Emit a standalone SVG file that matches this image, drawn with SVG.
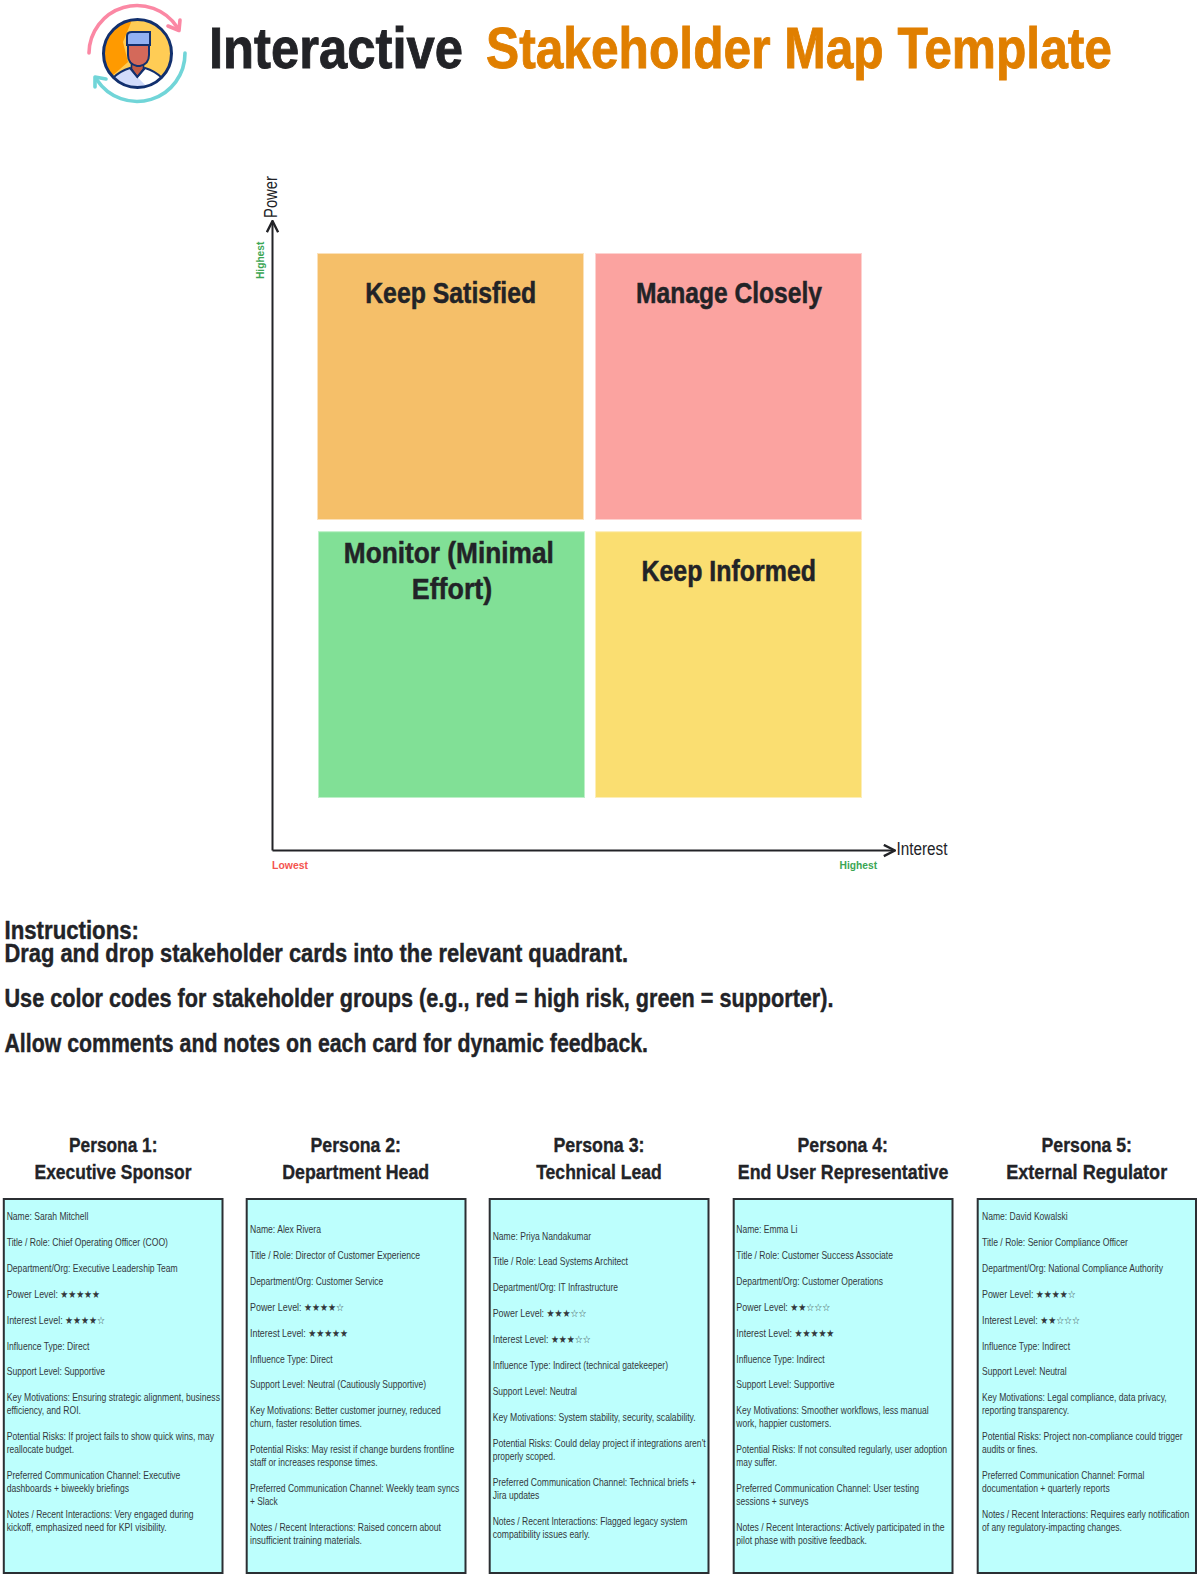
<svg xmlns="http://www.w3.org/2000/svg" width="1200" height="1577" viewBox="0 0 1200 1577">
<style>
text{font-family:"Liberation Sans Narrow","Liberation Sans","DejaVu Sans",sans-serif}
.h{font-weight:700;fill:#222327;stroke:#222327}
.title{font-size:58px;stroke-width:.9px}
.or{font-weight:700;fill:#e07f00;stroke:#e07f00}
.q{font-size:30px;stroke-width:.5px}
.ins{font-size:25px;stroke-width:.4px}
.ph{font-size:21px;stroke-width:.35px}
.t{font-size:10.5px;fill:#33383c}
.ax{font-size:18px;fill:#222327}
.lvl{font-size:11.5px;font-weight:700}
.card{fill:#bdfffd;stroke:#2b2f33;stroke-width:2}
.axis{fill:none;stroke:#222327;stroke-width:2}
</style>
<defs>
<marker id="arr" viewBox="0 0 10 10" refX="9" refY="5" markerWidth="7" markerHeight="7" orient="auto"><path d="M1 1L9 5L1 9" fill="none" stroke="#222327" stroke-width="1.700"/></marker>
<clipPath id="face"><circle cx="137.500" cy="53.500" r="34"/></clipPath>
</defs>
<rect width="1200" height="1577" fill="#fff"/>
<g id="logo">
<path d="M89 53A48 48 0 0 1 177 27" fill="none" stroke="#fb88a4" stroke-width="3.600" stroke-linecap="round"/>
<path d="M168 26L179 30.500L180 20" fill="none" stroke="#fb88a4" stroke-width="3.600" stroke-linecap="round" stroke-linejoin="round"/>
<path d="M185 53A48 48 0 0 1 97 80" fill="none" stroke="#71d5d8" stroke-width="3.600" stroke-linecap="round"/>
<path d="M106 79L95 77L95 87" fill="none" stroke="#71d5d8" stroke-width="3.600" stroke-linecap="round" stroke-linejoin="round"/>
<circle cx="137.500" cy="53.500" r="34" fill="#ffcc55"/>
<path d="M132 20A34 34 0 0 0 112 76L128 62L123 42Z" fill="#ff9a00"/>
<g clip-path="url(#face)">
<path d="M113 90V78Q120 71 130 68L137.300 77L145 68Q155 71 162 78V90Z" fill="#d2dcfb"/>
<path d="M137.300 77L145 68Q155 71 162 78L150 90Z" fill="#fff"/>
<path d="M131.500 62H143.500V69L137.300 77L131.500 69Z" fill="#c25b44" stroke="#12306e" stroke-width="1.600"/>
<path d="M113 78Q120 71 130 68L137.300 77L145 68Q155 71 162 78" fill="none" stroke="#12306e" stroke-width="2"/>
</g>
<path d="M128 44H149V55Q149 64 140 66H137Q128 64 128 55Z" fill="#d4695a" stroke="#12306e" stroke-width="2"/>
<path d="M127 45V36Q127 32 132 32H150V45Z" fill="#92b1f2" stroke="#12306e" stroke-width="2"/>
<circle cx="137.500" cy="53.500" r="34" fill="none" stroke="#12306e" stroke-width="3"/>
</g>
<g id="title">
<text class="h title" x="209" y="68" textLength="254" lengthAdjust="spacingAndGlyphs">Interactive</text>
<text class="title or" x="486" y="68" textLength="626" lengthAdjust="spacingAndGlyphs">Stakeholder Map Template</text>
</g>
<g id="quadrant-keep-satisfied">
<rect x="317.500" y="253.500" width="266" height="266" fill="#f5bf69" stroke="#fbe1ba"/>
<text class="h q" x="365.200" y="302.700" textLength="171" lengthAdjust="spacingAndGlyphs">Keep Satisfied</text>
</g>
<g id="quadrant-manage-closely">
<rect x="595.500" y="253.500" width="266" height="266" fill="#fba3a0" stroke="#fdd2d0"/>
<text class="h q" x="636" y="302.700" textLength="186" lengthAdjust="spacingAndGlyphs">Manage Closely</text>
</g>
<g id="quadrant-monitor">
<rect x="318.500" y="531.700" width="266" height="265.800" fill="#81e096" stroke="#bdf0c8"/>
<text class="h q" x="343.800" y="562.700" textLength="210" lengthAdjust="spacingAndGlyphs">Monitor (Minimal</text>
<text class="h q" x="411.800" y="599" textLength="80.400" lengthAdjust="spacingAndGlyphs">Effort)</text>
</g>
<g id="quadrant-keep-informed">
<rect x="595.500" y="531.700" width="266" height="265.800" fill="#fade71" stroke="#fdeeb8"/>
<text class="h q" x="641.500" y="581" textLength="174.500" lengthAdjust="spacingAndGlyphs">Keep Informed</text>
</g>
<g id="connectors">
<path class="axis" d="M272.500 850.500V221" marker-end="url(#arr)"/>
<path class="axis" d="M272.500 850.500H895" marker-end="url(#arr)"/>
</g>
<g id="axis-labels">
<text class="ax" transform="translate(276.700 218) rotate(-90)" textLength="42" lengthAdjust="spacingAndGlyphs">Power</text>
<text class="lvl" fill="#3ba654" transform="translate(264.300 279) rotate(-90)" textLength="37.300" lengthAdjust="spacingAndGlyphs">Highest</text>
<text class="ax" x="896.500" y="854.500" textLength="51" lengthAdjust="spacingAndGlyphs">Interest</text>
<text class="lvl" fill="#f4544f" x="272" y="868.500" textLength="36" lengthAdjust="spacingAndGlyphs">Lowest</text>
<text class="lvl" fill="#3ba654" x="839.500" y="868.500" textLength="37.600" lengthAdjust="spacingAndGlyphs">Highest</text>
</g>
<g id="instructions">
<text class="h ins" x="4.500" y="938.500" textLength="134.500" lengthAdjust="spacingAndGlyphs">Instructions:</text>
<text class="h ins" x="4.500" y="962" textLength="623.500" lengthAdjust="spacingAndGlyphs">Drag and drop stakeholder cards into the relevant quadrant.</text>
<text class="h ins" x="4.500" y="1006.500" textLength="829" lengthAdjust="spacingAndGlyphs">Use color codes for stakeholder groups (e.g., red = high risk, green = supporter).</text>
<text class="h ins" x="4.500" y="1051.500" textLength="643.500" lengthAdjust="spacingAndGlyphs">Allow comments and notes on each card for dynamic feedback.</text>
</g>
<g id="persona-1">
<text class="h ph" x="69" y="1152" textLength="88.500" lengthAdjust="spacingAndGlyphs">Persona 1:</text>
<text class="h ph" x="34.500" y="1178.800" textLength="157" lengthAdjust="spacingAndGlyphs">Executive Sponsor</text>
<rect class="card" x="3.800" y="1199" width="218.700" height="374"/>
<g class="t">
<text x="6.700" y="1220" textLength="81.700" lengthAdjust="spacingAndGlyphs">Name: Sarah Mitchell</text>
<text x="6.700" y="1245.900" textLength="161.300" lengthAdjust="spacingAndGlyphs">Title / Role: Chief Operating Officer (COO)</text>
<text x="6.700" y="1271.800" textLength="171" lengthAdjust="spacingAndGlyphs">Department/Org: Executive Leadership Team</text>
<text x="6.700" y="1297.700" textLength="93.300" lengthAdjust="spacingAndGlyphs">Power Level: ★★★★★</text>
<text x="6.700" y="1323.600" textLength="98.300" lengthAdjust="spacingAndGlyphs">Interest Level: ★★★★☆</text>
<text x="6.700" y="1349.500" textLength="82.700" lengthAdjust="spacingAndGlyphs">Influence Type: Direct</text>
<text x="6.700" y="1375.400" textLength="98.300" lengthAdjust="spacingAndGlyphs">Support Level: Supportive</text>
<text x="6.700" y="1401.300" textLength="213.300" lengthAdjust="spacingAndGlyphs">Key Motivations: Ensuring strategic alignment, business</text>
<text x="6.700" y="1414.300" textLength="74.300" lengthAdjust="spacingAndGlyphs">efficiency, and ROI.</text>
<text x="6.700" y="1440.200" textLength="207.300" lengthAdjust="spacingAndGlyphs">Potential Risks: If project fails to show quick wins, may</text>
<text x="6.700" y="1453.200" textLength="67.300" lengthAdjust="spacingAndGlyphs">reallocate budget.</text>
<text x="6.700" y="1479.100" textLength="173.700" lengthAdjust="spacingAndGlyphs">Preferred Communication Channel: Executive</text>
<text x="6.700" y="1492.100" textLength="122.300" lengthAdjust="spacingAndGlyphs">dashboards + biweekly briefings</text>
<text x="6.700" y="1518" textLength="186.700" lengthAdjust="spacingAndGlyphs">Notes / Recent Interactions: Very engaged during</text>
<text x="6.700" y="1531" textLength="160" lengthAdjust="spacingAndGlyphs">kickoff, emphasized need for KPI visibility.</text>
</g>
</g>
<g id="persona-2">
<text class="h ph" x="310.500" y="1152" textLength="90.500" lengthAdjust="spacingAndGlyphs">Persona 2:</text>
<text class="h ph" x="282.200" y="1178.800" textLength="147" lengthAdjust="spacingAndGlyphs">Department Head</text>
<rect class="card" x="246.700" y="1199" width="218.800" height="374"/>
<g class="t">
<text x="250" y="1233" textLength="71" lengthAdjust="spacingAndGlyphs">Name: Alex Rivera</text>
<text x="250" y="1258.900" textLength="170" lengthAdjust="spacingAndGlyphs">Title / Role: Director of Customer Experience</text>
<text x="250" y="1284.800" textLength="133.300" lengthAdjust="spacingAndGlyphs">Department/Org: Customer Service</text>
<text x="250" y="1310.700" textLength="94" lengthAdjust="spacingAndGlyphs">Power Level: ★★★★☆</text>
<text x="250" y="1336.600" textLength="98" lengthAdjust="spacingAndGlyphs">Interest Level: ★★★★★</text>
<text x="250" y="1362.500" textLength="82.700" lengthAdjust="spacingAndGlyphs">Influence Type: Direct</text>
<text x="250" y="1388.400" textLength="176" lengthAdjust="spacingAndGlyphs">Support Level: Neutral (Cautiously Supportive)</text>
<text x="250" y="1414.300" textLength="190.700" lengthAdjust="spacingAndGlyphs">Key Motivations: Better customer journey, reduced</text>
<text x="250" y="1427.300" textLength="112" lengthAdjust="spacingAndGlyphs">churn, faster resolution times.</text>
<text x="250" y="1453.200" textLength="204.300" lengthAdjust="spacingAndGlyphs">Potential Risks: May resist if change burdens frontline</text>
<text x="250" y="1466.200" textLength="127.700" lengthAdjust="spacingAndGlyphs">staff or increases response times.</text>
<text x="250" y="1492.100" textLength="209.300" lengthAdjust="spacingAndGlyphs">Preferred Communication Channel: Weekly team syncs</text>
<text x="250" y="1505.100" textLength="27.700" lengthAdjust="spacingAndGlyphs">+ Slack</text>
<text x="250" y="1531" textLength="191" lengthAdjust="spacingAndGlyphs">Notes / Recent Interactions: Raised concern about</text>
<text x="250" y="1544" textLength="112" lengthAdjust="spacingAndGlyphs">insufficient training materials.</text>
</g>
</g>
<g id="persona-3">
<text class="h ph" x="553.500" y="1152" textLength="91" lengthAdjust="spacingAndGlyphs">Persona 3:</text>
<text class="h ph" x="536.200" y="1178.800" textLength="125.500" lengthAdjust="spacingAndGlyphs">Technical Lead</text>
<rect class="card" x="489.700" y="1199" width="218.800" height="374"/>
<g class="t">
<text x="492.700" y="1239.500" textLength="98.300" lengthAdjust="spacingAndGlyphs">Name: Priya Nandakumar</text>
<text x="492.700" y="1265.400" textLength="135.300" lengthAdjust="spacingAndGlyphs">Title / Role: Lead Systems Architect</text>
<text x="492.700" y="1291.300" textLength="125.300" lengthAdjust="spacingAndGlyphs">Department/Org: IT Infrastructure</text>
<text x="492.700" y="1317.200" textLength="93.700" lengthAdjust="spacingAndGlyphs">Power Level: ★★★☆☆</text>
<text x="492.700" y="1343.100" textLength="98" lengthAdjust="spacingAndGlyphs">Interest Level: ★★★☆☆</text>
<text x="492.700" y="1369" textLength="175.300" lengthAdjust="spacingAndGlyphs">Influence Type: Indirect (technical gatekeeper)</text>
<text x="492.700" y="1394.900" textLength="84.300" lengthAdjust="spacingAndGlyphs">Support Level: Neutral</text>
<text x="492.700" y="1420.800" textLength="203" lengthAdjust="spacingAndGlyphs">Key Motivations: System stability, security, scalability.</text>
<text x="492.700" y="1446.700" textLength="213" lengthAdjust="spacingAndGlyphs">Potential Risks: Could delay project if integrations aren't</text>
<text x="492.700" y="1459.700" textLength="62.700" lengthAdjust="spacingAndGlyphs">properly scoped.</text>
<text x="492.700" y="1485.600" textLength="203.300" lengthAdjust="spacingAndGlyphs">Preferred Communication Channel: Technical briefs +</text>
<text x="492.700" y="1498.600" textLength="46.700" lengthAdjust="spacingAndGlyphs">Jira updates</text>
<text x="492.700" y="1524.500" textLength="194.700" lengthAdjust="spacingAndGlyphs">Notes / Recent Interactions: Flagged legacy system</text>
<text x="492.700" y="1537.500" textLength="97.300" lengthAdjust="spacingAndGlyphs">compatibility issues early.</text>
</g>
</g>
<g id="persona-4">
<text class="h ph" x="797.500" y="1152" textLength="90.500" lengthAdjust="spacingAndGlyphs">Persona 4:</text>
<text class="h ph" x="737.800" y="1178.800" textLength="210.500" lengthAdjust="spacingAndGlyphs">End User Representative</text>
<rect class="card" x="733.700" y="1199" width="218.800" height="374"/>
<g class="t">
<text x="736.300" y="1233" textLength="61" lengthAdjust="spacingAndGlyphs">Name: Emma Li</text>
<text x="736.300" y="1258.900" textLength="156.700" lengthAdjust="spacingAndGlyphs">Title / Role: Customer Success Associate</text>
<text x="736.300" y="1284.800" textLength="146.700" lengthAdjust="spacingAndGlyphs">Department/Org: Customer Operations</text>
<text x="736.300" y="1310.700" textLength="94" lengthAdjust="spacingAndGlyphs">Power Level: ★★☆☆☆</text>
<text x="736.300" y="1336.600" textLength="98" lengthAdjust="spacingAndGlyphs">Interest Level: ★★★★★</text>
<text x="736.300" y="1362.500" textLength="88.300" lengthAdjust="spacingAndGlyphs">Influence Type: Indirect</text>
<text x="736.300" y="1388.400" textLength="98.300" lengthAdjust="spacingAndGlyphs">Support Level: Supportive</text>
<text x="736.300" y="1414.300" textLength="192.300" lengthAdjust="spacingAndGlyphs">Key Motivations: Smoother workflows, less manual</text>
<text x="736.300" y="1427.300" textLength="95" lengthAdjust="spacingAndGlyphs">work, happier customers.</text>
<text x="736.300" y="1453.200" textLength="210.700" lengthAdjust="spacingAndGlyphs">Potential Risks: If not consulted regularly, user adoption</text>
<text x="736.300" y="1466.200" textLength="40.700" lengthAdjust="spacingAndGlyphs">may suffer.</text>
<text x="736.300" y="1492.100" textLength="182.700" lengthAdjust="spacingAndGlyphs">Preferred Communication Channel: User testing</text>
<text x="736.300" y="1505.100" textLength="72.300" lengthAdjust="spacingAndGlyphs">sessions + surveys</text>
<text x="736.300" y="1531" textLength="208.300" lengthAdjust="spacingAndGlyphs">Notes / Recent Interactions: Actively participated in the</text>
<text x="736.300" y="1544" textLength="130.700" lengthAdjust="spacingAndGlyphs">pilot phase with positive feedback.</text>
</g>
</g>
<g id="persona-5">
<text class="h ph" x="1041.500" y="1152" textLength="90.500" lengthAdjust="spacingAndGlyphs">Persona 5:</text>
<text class="h ph" x="1006.200" y="1178.800" textLength="161" lengthAdjust="spacingAndGlyphs">External Regulator</text>
<rect class="card" x="977.700" y="1199" width="218.300" height="374"/>
<g class="t">
<text x="982" y="1220" textLength="85.700" lengthAdjust="spacingAndGlyphs">Name: David Kowalski</text>
<text x="982" y="1245.900" textLength="146" lengthAdjust="spacingAndGlyphs">Title / Role: Senior Compliance Officer</text>
<text x="982" y="1271.800" textLength="181" lengthAdjust="spacingAndGlyphs">Department/Org: National Compliance Authority</text>
<text x="982" y="1297.700" textLength="93.700" lengthAdjust="spacingAndGlyphs">Power Level: ★★★★☆</text>
<text x="982" y="1323.600" textLength="98" lengthAdjust="spacingAndGlyphs">Interest Level: ★★☆☆☆</text>
<text x="982" y="1349.500" textLength="88" lengthAdjust="spacingAndGlyphs">Influence Type: Indirect</text>
<text x="982" y="1375.400" textLength="84.700" lengthAdjust="spacingAndGlyphs">Support Level: Neutral</text>
<text x="982" y="1401.300" textLength="184.700" lengthAdjust="spacingAndGlyphs">Key Motivations: Legal compliance, data privacy,</text>
<text x="982" y="1414.300" textLength="87" lengthAdjust="spacingAndGlyphs">reporting transparency.</text>
<text x="982" y="1440.200" textLength="200.700" lengthAdjust="spacingAndGlyphs">Potential Risks: Project non-compliance could trigger</text>
<text x="982" y="1453.200" textLength="55.700" lengthAdjust="spacingAndGlyphs">audits or fines.</text>
<text x="982" y="1479.100" textLength="162.300" lengthAdjust="spacingAndGlyphs">Preferred Communication Channel: Formal</text>
<text x="982" y="1492.100" textLength="127.700" lengthAdjust="spacingAndGlyphs">documentation + quarterly reports</text>
<text x="982" y="1518" textLength="207.300" lengthAdjust="spacingAndGlyphs">Notes / Recent Interactions: Requires early notification</text>
<text x="982" y="1531" textLength="140" lengthAdjust="spacingAndGlyphs">of any regulatory-impacting changes.</text>
</g>
</g>
</svg>
